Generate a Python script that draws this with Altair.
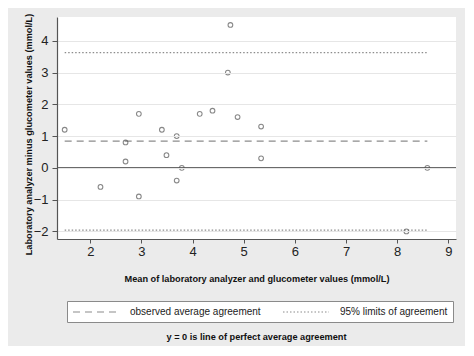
import altair as alt
import pandas as pd

# Bland-Altman data
mean_vals = [1.5, 2.2, 2.69, 2.69, 2.95, 2.95, 3.4, 3.49, 3.69, 3.69,
             3.79, 4.14, 4.39, 4.69, 4.74, 4.88, 5.34, 5.34, 8.18, 8.59]
diff_vals = [1.2, -0.6, 0.8, 0.2, 1.7, -0.9, 1.2, 0.4, 1.0, -0.4,
             0.0, 1.7, 1.8, 3.0, 4.5, 1.6, 1.3, 0.3, -2.0, 0.0]

ref_kinds = ["observed average agreement", "95% limits of agreement", "95% limits of agreement"]
ref_values = [0.84, 3.63, -1.96]
legend_order = ["observed average agreement", "95% limits of agreement"]

x_ticks = [2, 3, 4, 5, 6, 7, 8, 9]
y_ticks = [-2, -1, 0, 1, 2, 3, 4]
x_domain = [1.35, 9.15]
y_domain = [-2.24, 4.75]

x_title = "Mean of laboratory analyzer and glucometer values (mmol/L)"
y_title = "Laboratory analyzer minus glucometer values (mmol/L)"
caption = "y = 0 is line of perfect average agreement"

FONT = "Liberation Sans, Arial, Helvetica, sans-serif"
TSIZE = 9.2

W, H = 399, 222
# gray frame around the plot area, in pixels relative to the plot origin
FL, FR, FT, FB = -49, 408, -9, 329

pts = pd.DataFrame({"m": mean_vals, "d": diff_vals})
refs = pd.DataFrame({
    "kind": ref_kinds,
    "y": ref_values,
    "x0": [min(mean_vals)] * len(ref_kinds),
    "x1": [max(mean_vals)] * len(ref_kinds),
})
cap = pd.DataFrame({"t": [caption]})

# frame corners expressed through the scales (pixel -> data)
xpx = (x_domain[1] - x_domain[0]) / W
ypx = (y_domain[1] - y_domain[0]) / H
frame = pd.DataFrame({
    "fx0": [x_domain[0] + FL * xpx], "fx1": [x_domain[0] + FR * xpx],
    "fy0": [y_domain[1] - FT * ypx], "fy1": [y_domain[1] - FB * ypx],
})

xs = alt.Scale(domain=x_domain, nice=False, zero=False)
ys = alt.Scale(domain=y_domain, nice=False, zero=False)

xaxis = alt.Axis(values=x_ticks, title=x_title, grid=False, zindex=1,
                 titleY=39, titleBaseline="middle", tickSize=4, labelPadding=2)
yaxis = alt.Axis(values=y_ticks, title=y_title, grid=True, zindex=1,
                 titleX=-29, titleY=117, titleBaseline="middle", titleAngle=270,
                 tickSize=5, labelPadding=4)

panel = alt.Chart(frame).mark_rect(color="#ebebeb", clip=False).encode(
    x=alt.X("fx0:Q", scale=xs, axis=xaxis), x2="fx1:Q",
    y=alt.Y("fy0:Q", scale=ys, axis=yaxis), y2="fy1:Q",
)
plotbg = alt.Chart(cap).mark_rect(color="white", clip=False).encode(
    x=alt.value(0), x2=alt.value(W), y=alt.value(0), y2=alt.value(H)
)

zero = alt.Chart(cap).mark_rule(color="#6a6a6a", strokeWidth=1.6).encode(
    y=alt.Y(datum=0, scale=ys, axis=yaxis)
)

lines = alt.Chart(refs).mark_rule(color="#8c8c8c", strokeWidth=1.3).encode(
    x=alt.X("x0:Q", scale=xs, axis=xaxis),
    x2="x1:Q",
    y=alt.Y("y:Q", scale=ys, axis=yaxis),
    strokeDash=alt.StrokeDash(
        "kind:N",
        scale=alt.Scale(domain=legend_order, range=[[7, 5], [1.5, 2]]),
        legend=alt.Legend(
            title=None,
            orient="none",
            legendX=10,
            legendY=284,
            direction="horizontal",
            fillColor="white",
            strokeColor="#8a8a8a",
            padding=5,
            symbolType="M-1,0H8.2",
            symbolSize=100,
            symbolStrokeColor="#8c8c8c",
            symbolStrokeWidth=1.2,
            labelFont=FONT,
            labelFontSize=10,
            labelColor="#222",
            labelOffset=46,
            columnPadding=19,
        ),
    ),
)

points = alt.Chart(pts).mark_point(
    shape="circle", size=22, filled=False, color="#555", strokeWidth=1.1
).encode(
    x=alt.X("m:Q", scale=xs, axis=xaxis),
    y=alt.Y("d:Q", scale=ys, axis=yaxis),
)

text = alt.Chart(cap).mark_text(
    font=FONT, fontSize=TSIZE, fontWeight="bold", color="#111", baseline="middle"
).encode(x=alt.value(W / 2), y=alt.value(320), text="t:N")

chart = alt.layer(panel, plotbg, zero, lines, points, text).properties(
    width=W, height=H,
    autosize=alt.AutoSizeParams(type="none"),
    padding={"left": 57, "top": 17, "right": 18, "bottom": 117},
    background="white",
).configure_view(stroke=None, fill=None).configure_axis(
    domainColor="#555",
    domainWidth=1.2,
    tickColor="#555",
    labelFont=FONT,
    labelFontSize=13,
    labelColor="#222",
    titleFont=FONT,
    titleFontSize=TSIZE,
    titleFontWeight="bold",
    titleColor="#111",
    gridColor="#e6e6e6",
    gridWidth=1,
).configure_axisY(labelAngle=0)

chart.save("out.html", embed_options={"renderer": "svg", "actions": False})
